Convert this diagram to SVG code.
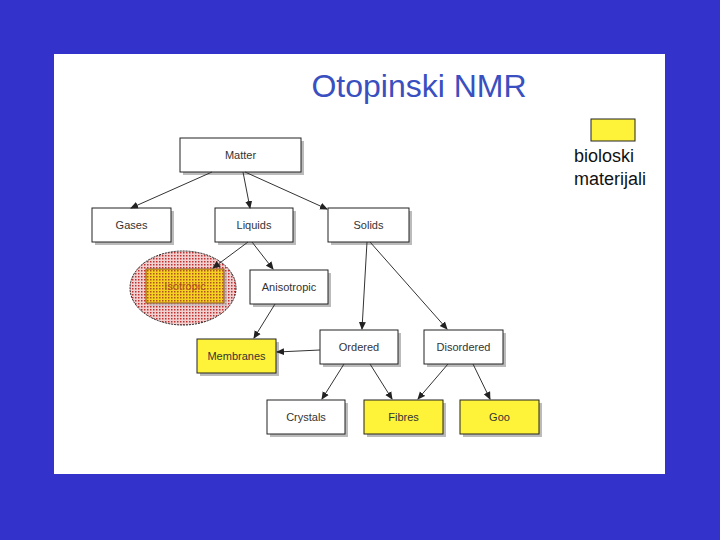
<svg xmlns="http://www.w3.org/2000/svg" width="720" height="540" viewBox="0 0 720 540">
<defs>
<marker id="ah" markerWidth="8" markerHeight="8" refX="7" refY="4" orient="auto" markerUnits="userSpaceOnUse"><path d="M0,0.5 L8,4 L0,7.5 z" fill="#222"/></marker>
<pattern id="dots" width="3" height="3" patternUnits="userSpaceOnUse"><rect width="3" height="3" fill="#f2d0d0"/><rect width="1.5" height="1.5" fill="#c03030"/></pattern>
<pattern id="ydots" width="3" height="3" patternUnits="userSpaceOnUse"><rect width="3" height="3" fill="#f5d020"/><rect width="1.5" height="1.5" fill="#b05020"/></pattern>
</defs>
<style>
.b{fill:#fff;stroke:#222;stroke-width:1}
.y{fill:#fff33a;stroke:#222;stroke-width:1}
.s{fill:#bbb}
.t{font-family:"Liberation Sans",Arial,sans-serif;font-size:11px;fill:#333;text-anchor:middle}
.c line{stroke:#333;stroke-width:1;marker-end:url(#ah)}
</style>
<rect width="720" height="540" fill="#3333cc"/>
<rect x="54" y="54" width="611" height="420" fill="#fff"/>
<text x="419" y="97" font-family="Liberation Sans,Arial,sans-serif" font-size="32" fill="#3a4fc0" text-anchor="middle">Otopinski NMR</text>
<g id="legend">
<rect x="591" y="119" width="44" height="22" fill="#fff33a" stroke="#222"/>
<text x="574" y="162" font-family="Liberation Sans,Arial,sans-serif" font-size="18" fill="#111">bioloski</text>
<text x="574" y="185" font-family="Liberation Sans,Arial,sans-serif" font-size="18" fill="#111">materijali</text>
</g>
<g id="isotropic-region">
<ellipse cx="183" cy="288" rx="53" ry="37" fill="url(#dots)" stroke="#222" stroke-dasharray="2,1"/>
</g>
<g id="matter"><rect class="s" x="183" y="141" width="121" height="34"/><rect class="b" x="180" y="138" width="121" height="34"/><text class="t" x="240.5" y="159">Matter</text></g>
<g id="gases"><rect class="s" x="95" y="211" width="79" height="34"/><rect class="b" x="92" y="208" width="79" height="34"/><text class="t" x="131.5" y="229">Gases</text></g>
<g id="liquids"><rect class="s" x="218" y="211" width="78" height="34"/><rect class="b" x="215" y="208" width="78" height="34"/><text class="t" x="254" y="229">Liquids</text></g>
<g id="solids"><rect class="s" x="331" y="211" width="81" height="34"/><rect class="b" x="328" y="208" width="81" height="34"/><text class="t" x="368.5" y="229">Solids</text></g>
<g id="isotropic"><rect class="s" x="149" y="272" width="78" height="34" opacity="0.6"/><rect x="146" y="269" width="78" height="34" fill="url(#ydots)" stroke="#8a5020"/><text class="t" x="185" y="290" fill="#b05020" style="fill:#b05020">Isotropic</text></g>
<g id="anisotropic"><rect class="s" x="253" y="273" width="78" height="34"/><rect class="b" x="250" y="270" width="78" height="34"/><text class="t" x="289" y="291">Anisotropic</text></g>
<g id="membranes"><rect class="s" x="200" y="342" width="79" height="34"/><rect class="y" x="197" y="339" width="79" height="34"/><text class="t" x="236.5" y="360">Membranes</text></g>
<g id="ordered"><rect class="s" x="323" y="333" width="78" height="34"/><rect class="b" x="320" y="330" width="78" height="34"/><text class="t" x="359" y="351">Ordered</text></g>
<g id="disordered"><rect class="s" x="427" y="333" width="79" height="34"/><rect class="b" x="424" y="330" width="79" height="34"/><text class="t" x="463.5" y="351">Disordered</text></g>
<g id="crystals"><rect class="s" x="270" y="403" width="78" height="34"/><rect class="b" x="267" y="400" width="78" height="34"/><text class="t" x="306" y="421">Crystals</text></g>
<g id="fibres"><rect class="s" x="367" y="403" width="79" height="34"/><rect class="y" x="364" y="400" width="79" height="34"/><text class="t" x="403.5" y="421">Fibres</text></g>
<g id="goo"><rect class="s" x="463" y="403" width="79" height="34"/><rect class="y" x="460" y="400" width="79" height="34"/><text class="t" x="499.5" y="421">Goo</text></g>
<g class="c" id="connectors">
<line x1="212" y1="172" x2="131" y2="208"/>
<line x1="243" y1="172" x2="250" y2="208"/>
<line x1="245" y1="172" x2="327" y2="209"/>
<line x1="248" y1="242" x2="213" y2="268"/>
<line x1="252" y1="242" x2="273" y2="269"/>
<line x1="275" y1="304" x2="254" y2="338"/>
<line x1="367" y1="242" x2="362" y2="329"/>
<line x1="370" y1="242" x2="447" y2="329"/>
<line x1="320" y1="350" x2="277" y2="352"/>
<line x1="344" y1="364" x2="322" y2="399"/>
<line x1="370" y1="364" x2="392" y2="399"/>
<line x1="448" y1="364" x2="418" y2="399"/>
<line x1="473" y1="364" x2="490" y2="399"/>
</g>
</svg>
